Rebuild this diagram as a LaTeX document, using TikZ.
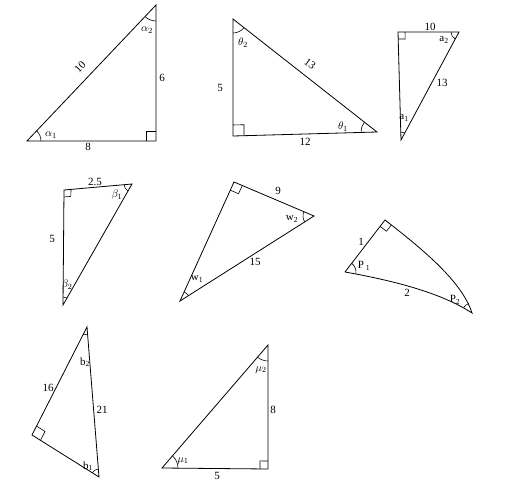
\documentclass[tikz,border=0pt]{standalone}
\usepackage{fontspec}
\setmainfont{Liberation Serif}
\usetikzlibrary{angles}

\tikzset{
  lab/.style={font=\fontsize{11}{13}\selectfont, inner sep=1pt},
  ang/.style={draw, line width=.6pt, angle radius=#1},
  rang/.style={draw, line width=.6pt, angle radius=#1},
}

\begin{document}
\begin{tikzpicture}[x=1pt, y=-1pt, line width=.8pt]
\useasboundingbox (0,0) rectangle (509,485);

% alpha
\coordinate (al1) at (27,141);
\coordinate (al2) at (156,5);
\coordinate (alr) at (156,141);
\draw (al1) -- (alr) -- (al2) -- cycle;
\pic[ang=14pt] {angle=alr--al1--al2};
\pic[ang=16pt] {angle=al1--al2--alr};
\pic[rang=10pt] {right angle=al2--alr--al1};
\node[lab, rotate=46] (al10) at (80,67) {10};
\node[lab] (al6) at (162,78) {6};
\node[lab] (al8) at (88,147) {8};
\node[lab] (alA1) at (51,135) {$\alpha_1$};
\node[lab] (alA2) at (147,30) {$\alpha_2$};

% theta
\coordinate (th2) at (233,19);
\coordinate (thr) at (233,136);
\coordinate (th1) at (377,132);
\draw (th2) -- (thr) -- (th1) -- cycle;
\pic[ang=16pt] {angle=th2--th1--thr};
\pic[ang=14pt] {angle=thr--th2--th1};
\pic[rang=11pt] {right angle=th2--thr--th1};
\node[lab, rotate=-38] (th13) at (310,64) {13};
\node[lab] (th5) at (220,88) {5};
\node[lab] (th12) at (305,142) {12};
\node[lab] (thT1) at (343,127) {$\theta_1$};
\node[lab] (thT2) at (243,43) {$\theta_2$};

% a
\coordinate (aar) at (398,32);
\coordinate (aa2) at (459,32);
\coordinate (aa1) at (401,140);
\draw (aar) -- (aa2) -- (aa1) -- cycle;
\pic[ang=8pt] {angle=aar--aa2--aa1};
\pic[ang=8pt] {angle=aa2--aa1--aar};
\pic[rang=7pt] {right angle=aa2--aar--aa1};
\node[lab] (aa10) at (430,27) {10};
\node[lab] (aa13) at (442,83) {13};
\node[lab] (aaA2) at (444,40) {a\textsubscript{2}};
\node[lab] (aaA1) at (404,118) {a\textsubscript{1}};

% beta
\coordinate (ber) at (64,190);
\coordinate (be1) at (132,184);
\coordinate (be2) at (63,305);
\draw (ber) -- (be1) -- (be2) -- cycle;
\pic[ang=8pt] {angle=ber--be1--be2};
\pic[ang=8pt] {angle=be1--be2--ber};
\pic[rang=7pt] {right angle=be1--ber--be2};
\node[lab] (be25) at (95,182) {2.5};
\node[lab] (be5) at (52,239) {5};
\node[lab] (beB1) at (117,195) {$\beta_1$};
\node[lab] (beB2) at (67,285) {$\beta_2$};

% w
\coordinate (wr) at (234,182);
\coordinate (w2) at (314,216);
\coordinate (w1) at (180,301);
\draw (wr) -- (w2) -- (w1) -- cycle;
\pic[ang=11pt] {angle=wr--w2--w1};
\pic[ang=10pt] {angle=w2--w1--wr};
\pic[rang=9pt] {right angle=w2--wr--w1};
\node[lab] (w9) at (278,191) {9};
\node[lab] (w15) at (255,262) {15};
\node[lab] (wW2) at (292,219) {w\textsubscript{2}};
\node[lab] (wW1) at (197,279) {w\textsubscript{1}};

% P (curved)
\coordinate (p1) at (345,272);
\coordinate (pr) at (385,220);
\coordinate (p2) at (472,313);
\coordinate (pc1) at (390,280);
\coordinate (pc2) at (440,292);
\coordinate (prc1) at (425,251);
\coordinate (prc2) at (462,282);
\draw (p1) -- (pr) .. controls (prc1) and (prc2) .. (p2)
  .. controls (pc2) and (pc1) .. (p1);
\pic[ang=11pt] {angle=pc1--p1--pr};
\pic[ang=10pt] {angle=prc2--p2--pc2};
\pic[rang=8pt] {right angle=p1--pr--prc1};
\node[lab] (p1l) at (361,242) {1};
\node[lab] (p2l) at (407,293) {2};
\node[lab] (pP1) at (364,266) {P\,\textsubscript{1}};
\node[lab] (pP2) at (455,300) {P\textsubscript{2}};

% b
\coordinate (b2) at (87,327);
\coordinate (br) at (32,435);
\coordinate (b1) at (99,477);
\draw (b2) -- (br) -- (b1) -- cycle;
\pic[ang=8pt] {angle=br--b2--b1};
\pic[ang=8pt] {angle=b2--b1--br};
\pic[rang=10pt] {right angle=b2--br--b1};
\node[lab] (b16) at (48,388) {16};
\node[lab] (b21) at (102,410) {21};
\node[lab] (bB2) at (85,362) {b\textsubscript{2}};
\node[lab] (bB1) at (88,466) {b\textsubscript{1}};

% mu
\coordinate (mu2) at (268,345);
\coordinate (mu1) at (162,468);
\coordinate (mur) at (268,469);
\draw (mu1) -- (mur) -- (mu2) -- cycle;
\pic[ang=16pt] {angle=mur--mu1--mu2};
\pic[ang=16pt] {angle=mu1--mu2--mur};
\pic[rang=8pt] {right angle=mu2--mur--mu1};
\node[lab] (mu8) at (273,410) {8};
\node[lab] (mu5) at (217,476) {5};
\node[lab] (muM1) at (183,461) {$\mu_1$};
\node[lab] (muM2) at (261,370) {$\mu_2$};
\end{tikzpicture}
\end{document}
